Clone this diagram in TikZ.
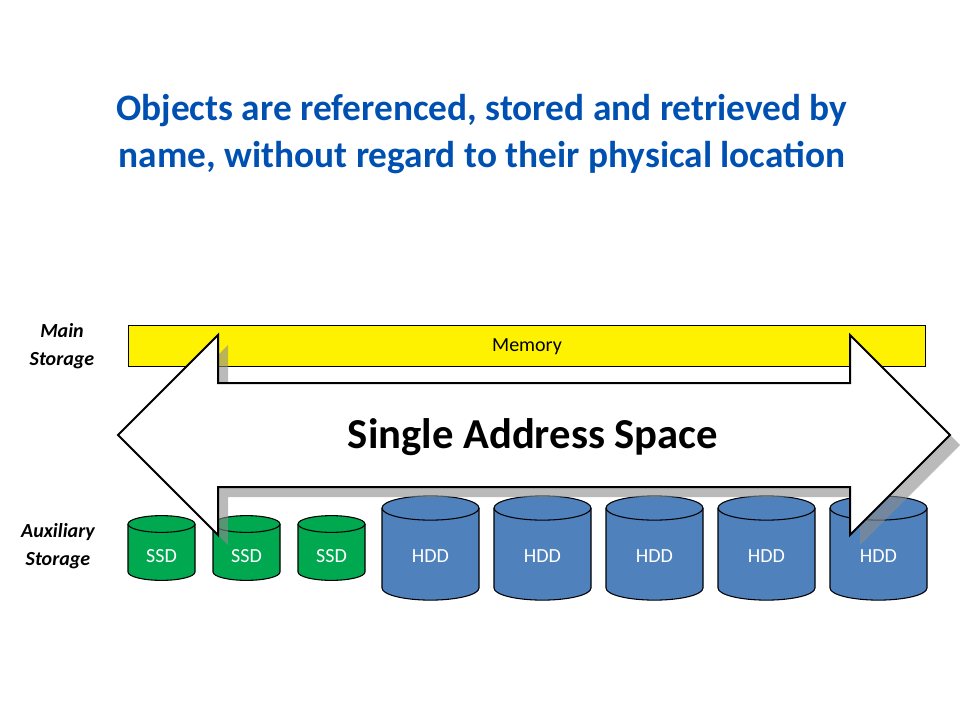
\documentclass[tikz,border=0pt]{standalone}
\usepackage{fontspec}
\setmainfont{Carlito}
\begin{document}
\begin{tikzpicture}[x=0.75pt,y=-0.75pt,
  title/.style={font=\fontsize{28}{35}\selectfont\bfseries, text=blue!55!cyan!70!black, align=center},
  side/.style={font=\fontsize{15}{21}\selectfont\bfseries\itshape, align=center},
  disk/.style={font=\fontsize{15}{17}\selectfont, text=white}]
\useasboundingbox (0,0) rectangle (960,720);
\definecolor{ssdgreen}{RGB}{0,168,80}
\definecolor{hddblue}{RGB}{79,129,189}
\node[title] (title) at (482,134) {Objects are referenced, stored and retrieved by\\name, without regard to their physical location};
\node[side] (mainlbl) at (62,346) {Main\\Storage};
\node[side] (auxlbl) at (58,546) {Auxiliary\\Storage};
\node[draw=black, thick, fill=yellow, minimum width=598pt, minimum height=31pt, anchor=north west] (mem) at (128,325) {};
\node at (527,347) (memtxt) {\fontsize{15}{17}\selectfont Memory};
% cylinders: x0, width, top y, bottom y, colour, label
\foreach \x/\w/\t/\b/\c/\l in {128/67/524/572/ssdgreen/SSD,213/67/524/572/ssdgreen/SSD,298/67/524/572/ssdgreen/SSD,
  382/97/508/588/hddblue/HDD,494/97/508/588/hddblue/HDD,606/97/508/588/hddblue/HDD,718/97/508/588/hddblue/HDD,830/97/508/588/hddblue/HDD}{
  \pgfmathsetmacro\rx{\w/2}\pgfmathsetmacro\ry{\w/8}
  \draw[thick, fill=\c] (\x,\t) -- (\x,\b) arc[start angle=180,end angle=0,x radius=\rx,y radius=\ry] -- (\x+\w,\t);
  \draw[thick, fill=\c] (\x+\rx,\t) ellipse[x radius=\rx,y radius=\ry];
  \node[disk] at (\x+\rx,{(\t+\b)/2+8}) {\l};
}
% double arrow with shadow
\fill[black!45, opacity=0.6] (128,445) -- (228,345) -- (228,393) -- (860,393) -- (860,345) -- (960,445) -- (860,545) -- (860,497) -- (228,497) -- (228,545) -- cycle;
\draw[line width=1.5pt, fill=white, line join=miter] (118,435) -- (218,335) -- (218,383) -- (850,383) -- (850,335) -- (950,435) -- (850,535) -- (850,487) -- (218,487) -- (218,535) -- cycle;
\node[font=\fontsize{32}{36}\selectfont\bfseries] (sas) at (533,437) {Single Address Space};
\end{tikzpicture}
\end{document}
